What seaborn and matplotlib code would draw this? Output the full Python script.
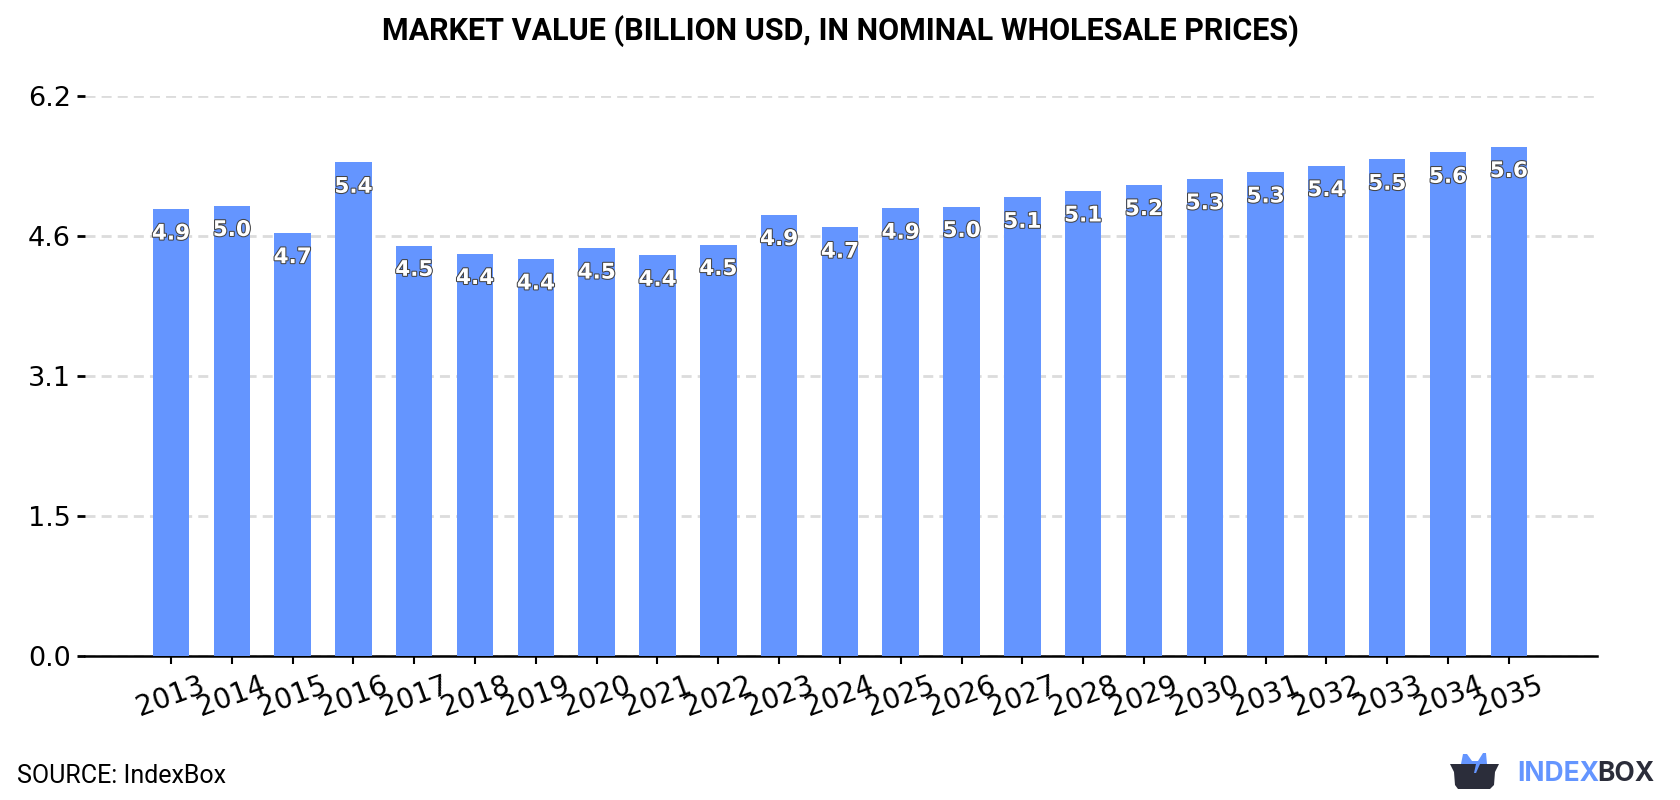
import matplotlib
matplotlib.use("Agg")
import matplotlib.pyplot as plt
import matplotlib.patheffects as pe
from matplotlib.patches import Polygon
import pandas as pd
import seaborn as sns

years = [2013, 2014, 2015, 2016, 2017, 2018, 2019, 2020, 2021, 2022, 2023, 2024,
         2025, 2026, 2027, 2028, 2029, 2030, 2031, 2032, 2033, 2034, 2035]
values = [4.93, 4.97, 4.67, 5.447, 4.53, 4.44, 4.38, 4.50, 4.42, 4.54, 4.87, 4.73,
          4.94, 4.96, 5.06, 5.13, 5.20, 5.265, 5.34, 5.41, 5.48, 5.557, 5.62]
y_ticks = [0, 1.545, 3.09, 4.635, 6.18]
title_text = "MARKET VALUE (BILLION USD, IN NOMINAL WHOLESALE PRICES)"
source_text = "SOURCE: IndexBox"

BLUE = "#6495ff"
DARK = "#2b2d3a"

sns.set_theme(style="white")
plt.rcParams["font.family"] = ["DejaVu Sans"]

W, H = 1680, 800
fig = plt.figure(figsize=(W / 100, H / 100), dpi=100, facecolor="white")
ax = fig.add_axes([85 / W, 1 - 656 / H, (1597 - 85) / W, (656 - 96) / H])

df = pd.DataFrame({"year": [str(y) for y in years], "value": values})
sns.barplot(data=df, x="year", y="value", color=BLUE, saturation=1, width=0.6, ax=ax,
            zorder=3, linewidth=0, edgecolor="none")

ax.set_xlim(-1.414, 23.45)
ax.set_ylim(0, y_ticks[-1])
ax.set_xlabel("")
ax.set_ylabel("")
ax.set_yticks(y_ticks)
ax.set_yticklabels([f"{t:.1f}" for t in y_ticks], fontsize=19.5, color="black")
ax.tick_params(axis="y", length=6, width=2, color="black", pad=4, left=True)
ax.tick_params(axis="x", length=6, width=1.5, color="black", pad=5, bottom=True)
for lab in ax.get_xticklabels():
    lab.set_rotation(20)
    lab.set_fontsize(20)
    lab.set_color("black")
    lab.set_ha("center")

ax.yaxis.grid(True, color="#dcdcdc", linestyle=(0, (3.6, 2.2)), linewidth=2)
ax.set_axisbelow(True)
for side in ("top", "left", "right"):
    ax.spines[side].set_visible(False)
ax.spines["bottom"].set_color("black")
ax.spines["bottom"].set_linewidth(1.8)

# Value captions sit just inside the top of each bar
for i, v in enumerate(values):
    ax.annotate(f"{v:.1f}", (i, v), xytext=(0, -17.5), textcoords="offset points",
                ha="center", va="center", fontsize=15.5, fontweight="bold", color="white",
                zorder=5, path_effects=[pe.withStroke(linewidth=1.5, foreground="#444444")])

# Overlay in pixel units for the heading, footer and logo
over = fig.add_axes([0, 0, 1, 1], zorder=10)
over.set_xlim(0, W)
over.set_ylim(H, 0)
over.axis("off")
over.patch.set_alpha(0)

over.text(840, 31, title_text, ha="center", va="center", family="Roboto",
          fontweight="bold", fontsize=22, color="black")
over.text(17, 776, source_text, ha="left", va="center", family="Roboto",
          fontsize=18, color="black")

over.add_patch(Polygon([(1461, 764), (1463, 754), (1467, 754), (1472, 761), (1478, 761),
                        (1483, 753), (1486, 753), (1487, 764), (1476, 773), (1461, 773)],
                       closed=True, fc=BLUE, ec="none"))
over.add_patch(Polygon([(1450, 764), (1476, 764), (1474, 773), (1476, 773), (1480, 764), (1499, 764),
                        (1495, 772), (1494, 785), (1490, 789), (1458, 789), (1455, 785),
                        (1454, 772)],
                       closed=True, fc=DARK, ec="none"))
over.text(1517, 774, "INDEX", ha="left", va="center", family="Inter",
          fontweight="bold", fontsize=19, color=BLUE)
over.text(1597, 774, "BOX", ha="left", va="center", family="Inter",
          fontweight="bold", fontsize=19, color=DARK)

fig.savefig("out.png", dpi=100, facecolor="white")
